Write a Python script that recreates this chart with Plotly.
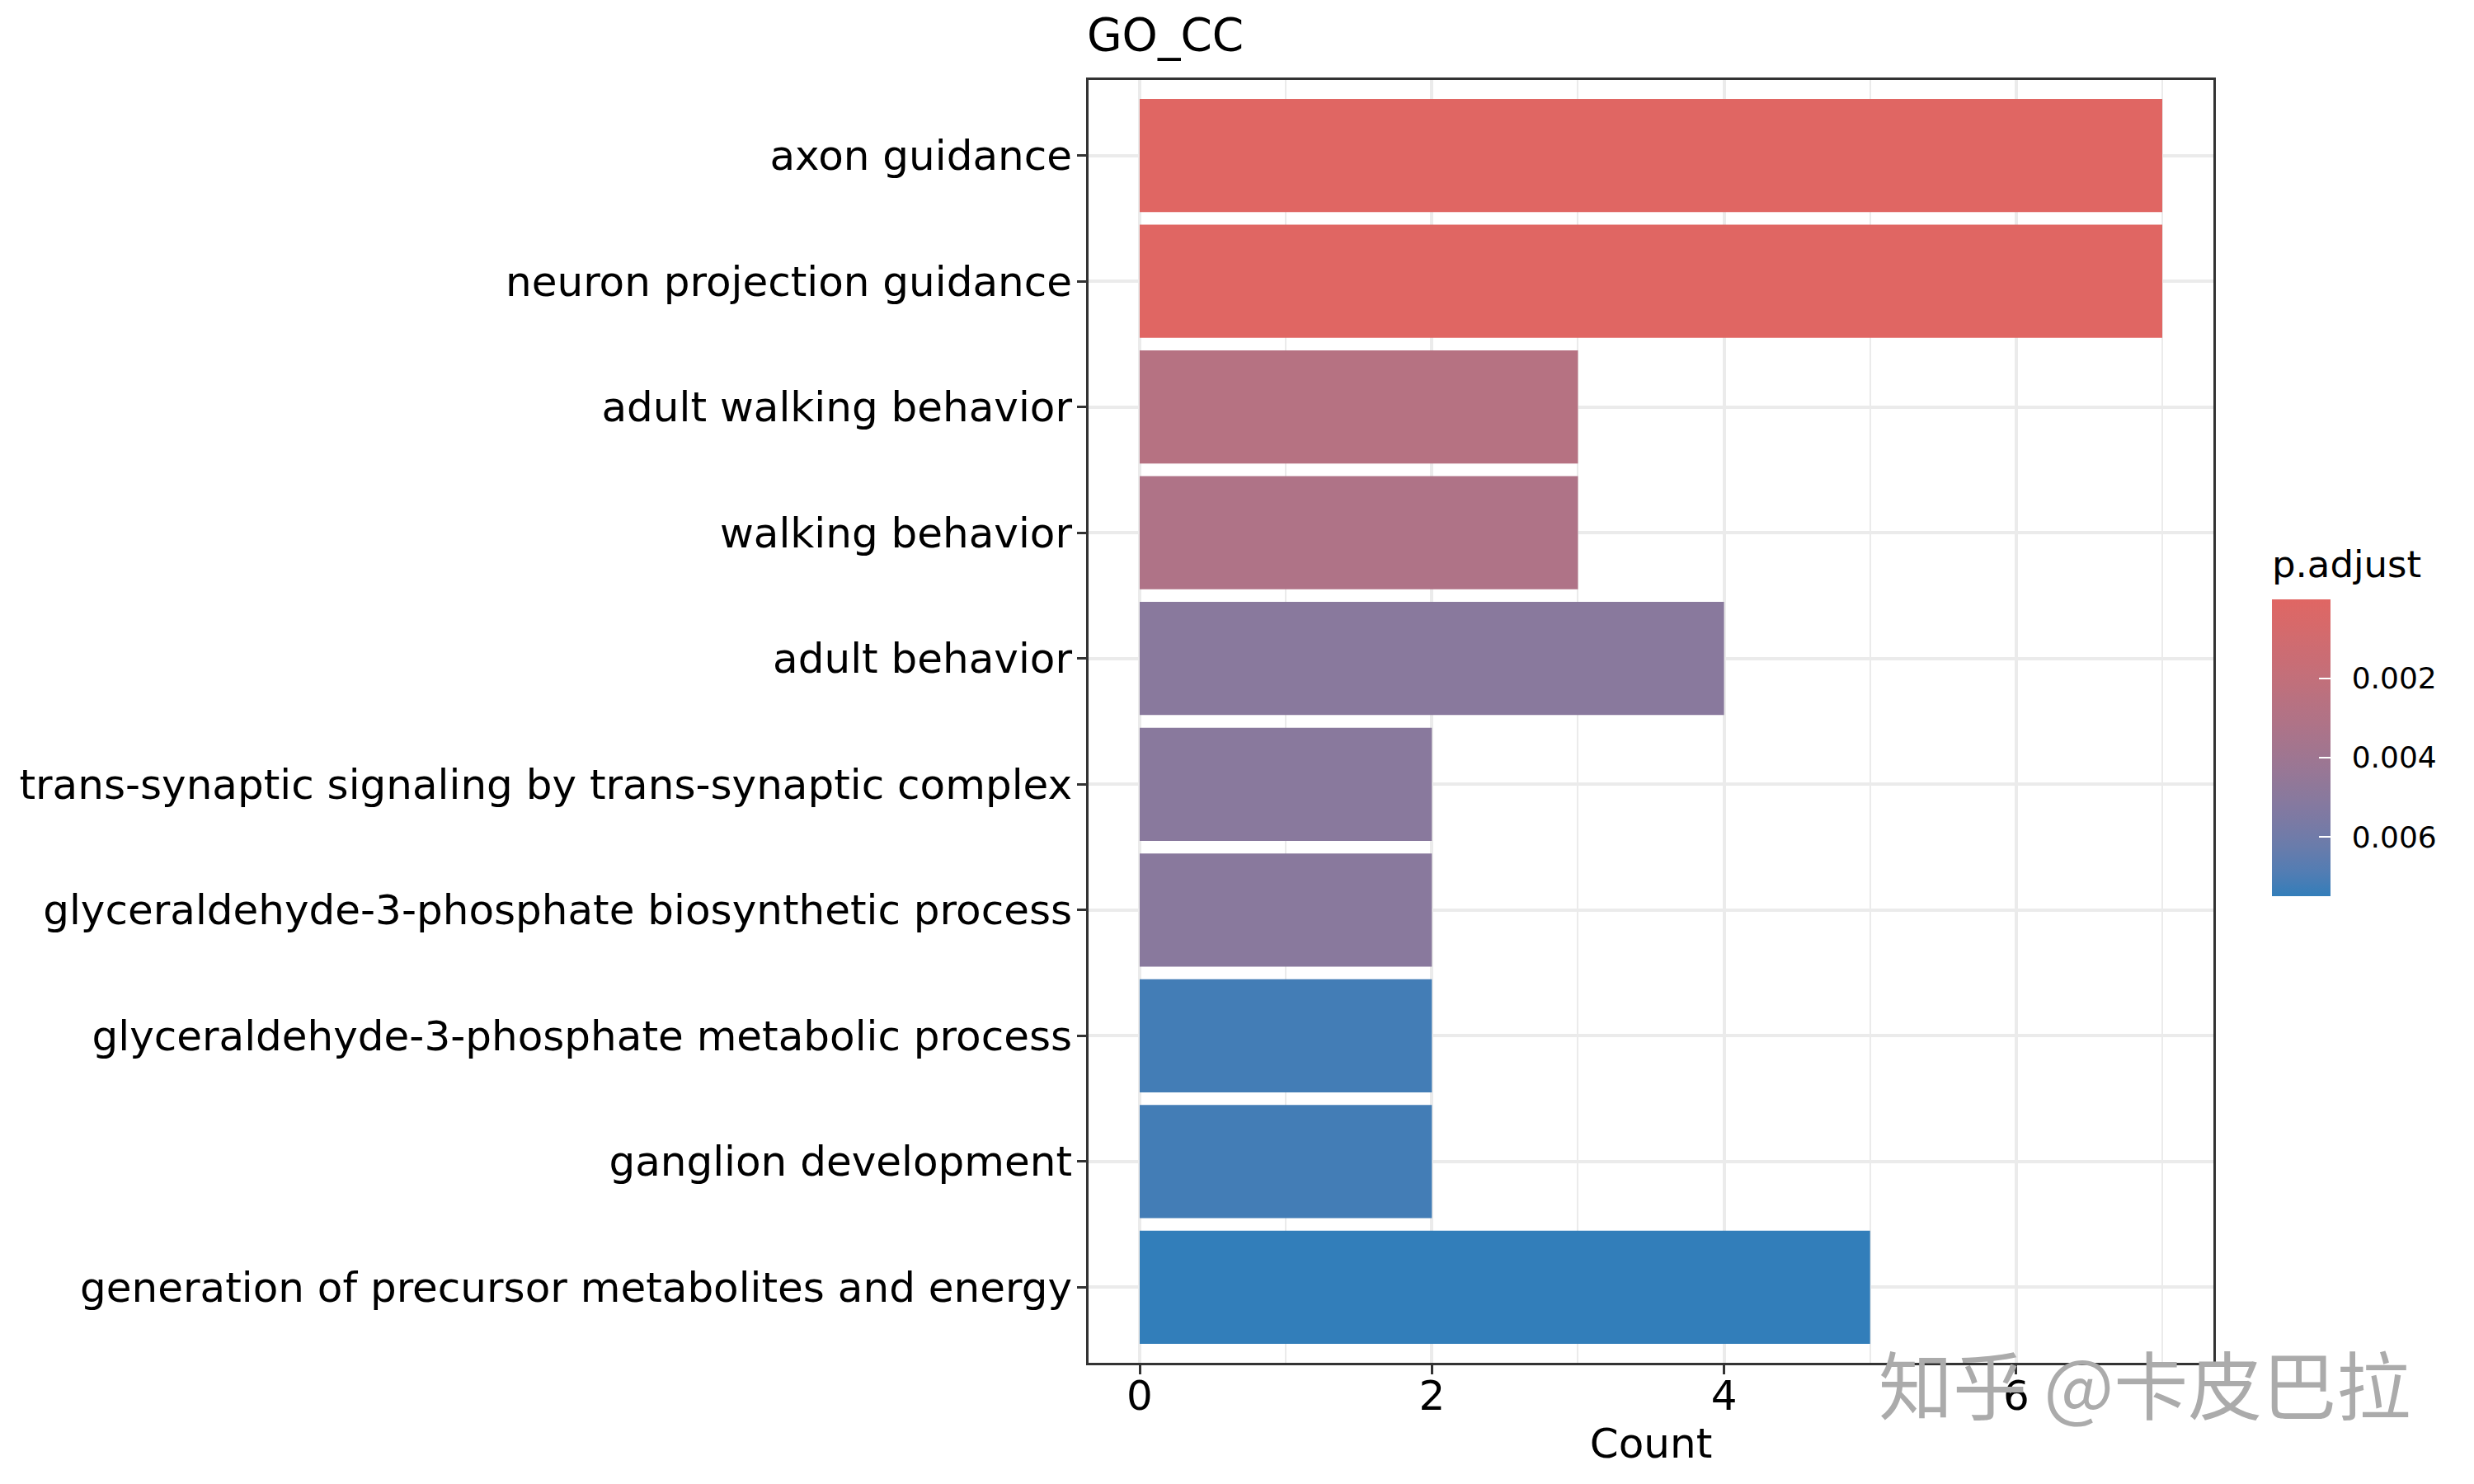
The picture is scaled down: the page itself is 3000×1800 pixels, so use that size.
import plotly.graph_objects as go

# ---------------- data ----------------
terms = [
    "axon guidance",
    "neuron projection guidance",
    "adult walking behavior",
    "walking behavior",
    "adult behavior",
    "trans-synaptic signaling by trans-synaptic complex",
    "glyceraldehyde-3-phosphate biosynthetic process",
    "glyceraldehyde-3-phosphate metabolic process",
    "ganglion development",
    "generation of precursor metabolites and energy",
]
counts = [7, 7, 3, 3, 4, 2, 2, 2, 2, 5]
p_adjust = [0.00001, 0.00003, 0.0027, 0.0031, 0.0050, 0.0050, 0.0050,
            0.0072, 0.0072, 0.0075]
x_ticks = [0, 2, 4, 6]
cb_ticks = [0.002, 0.004, 0.006]

LOW_COLOR = "#e06663"   # small p.adjust
HIGH_COLOR = "#327eba"  # large p.adjust


# ---------------- Lab gradient (like ggplot's scale_fill_gradient) ----------------
def _hex_to_rgb(h):
    h = h.lstrip("#")
    return [int(h[i:i + 2], 16) / 255 for i in (0, 2, 4)]


def _lin(c):
    return c / 12.92 if c <= 0.04045 else ((c + 0.055) / 1.055) ** 2.4


def _gam(c):
    c = max(0.0, min(1.0, c))
    return 12.92 * c if c <= 0.0031308 else 1.055 * c ** (1 / 2.4) - 0.055


WHITE = (0.95047, 1.0, 1.08883)


def rgb_to_lab(rgb):
    r, g, b = [_lin(c) for c in rgb]
    x = 0.4124 * r + 0.3576 * g + 0.1805 * b
    y = 0.2126 * r + 0.7152 * g + 0.0722 * b
    z = 0.0193 * r + 0.1192 * g + 0.9505 * b

    def f(t):
        return t ** (1 / 3) if t > 0.008856 else 7.787 * t + 16 / 116

    fx, fy, fz = f(x / WHITE[0]), f(y / WHITE[1]), f(z / WHITE[2])
    return (116 * fy - 16, 500 * (fx - fy), 200 * (fy - fz))


def lab_to_rgb(lab):
    L, a, b = lab
    fy = (L + 16) / 116
    fx = fy + a / 500
    fz = fy - b / 200

    def finv(t):
        return t ** 3 if t ** 3 > 0.008856 else (t - 16 / 116) / 7.787

    x, y, z = finv(fx) * WHITE[0], finv(fy) * WHITE[1], finv(fz) * WHITE[2]
    r = 3.2406 * x - 1.5372 * y - 0.4986 * z
    g = -0.9689 * x + 1.8758 * y + 0.0415 * z
    bb = 0.0557 * x - 0.2040 * y + 1.0570 * z
    return [round(_gam(c) * 255) for c in (r, g, bb)]


lab_lo = rgb_to_lab(_hex_to_rgb(LOW_COLOR))
lab_hi = rgb_to_lab(_hex_to_rgb(HIGH_COLOR))
n_stops = 25
colorscale = []
# colour value is -p so that small p (red) sits at the top of the colour bar
for i in range(n_stops):
    t = i / (n_stops - 1)          # 0 -> most negative (largest p) -> blue
    lab = [lab_hi[k] + (lab_lo[k] - lab_hi[k]) * t for k in range(3)]
    r, g, b = lab_to_rgb(lab)
    colorscale.append([t, f"rgb({r},{g},{b})"])

neg_p = [-p for p in p_adjust]

FONT = "DejaVu Sans"
GRID = "#EBEBEB"
AX = "#333333"

# page body has an 8px margin -> figure is 2992x1792, coordinates shifted by 8
W, H = 2992, 1792
L_M, R_M, T_M, B_M = 1312, 316, 89, 147
PLOT_H = H - T_M - B_M
PLOT_W = W - L_M - R_M

fig = go.Figure()
fig.add_trace(go.Bar(
    x=counts,
    y=terms,
    orientation="h",
    width=0.9,
    marker=dict(
        color=neg_p,
        colorscale=colorscale,
        cmin=-max(p_adjust),
        cmax=-min(p_adjust),
        line=dict(width=0),
        showscale=True,
        colorbar=dict(
            tickvals=[-v for v in cb_ticks],
            ticktext=["\u2002" + f"{v:.3f}" for v in cb_ticks],
            tickfont=dict(family=FONT, size=36, color="black"),
            ticks="inside",
            ticklen=14,
            tickwidth=2,
            tickcolor="white",
            outlinewidth=0,
            thickness=71,
            thicknessmode="pixels",
            len=360,
            lenmode="pixels",
            x=(2747 - L_M) / PLOT_W,
            xanchor="left",
            xpad=0,
            y=(H - B_M - 899) / PLOT_H,
            yanchor="middle",
            ypad=0,
        ),
    ),
    hoverinfo="x+y",
))

fig.update_layout(
    width=W,
    height=H,
    paper_bgcolor="white",
    plot_bgcolor="white",
    margin=dict(l=L_M, r=R_M, t=T_M, b=B_M, pad=0, autoexpand=False),
    showlegend=False,
    title=dict(
        text="GO_CC",
        font=dict(family=FONT, size=55, color="black"),
        xref="container", x=(L_M - 2) / W, xanchor="left",
        yref="container", y=1 - 34 / H, yanchor="middle",
    ),
    font=dict(family=FONT, color="black"),
    annotations=[
        dict(
            text="p.adjust",
            xref="paper", yref="paper",
            x=(2745 - L_M) / PLOT_W, y=(H - B_M - 677) / PLOT_H,
            xanchor="left", yanchor="middle",
            showarrow=False,
            font=dict(family=FONT, size=45, color="black"),
        ),
        dict(
            text="知乎 @卡皮巴拉",
            xref="paper", yref="paper",
            x=(2592 - L_M) / PLOT_W, y=(H - B_M - 1668) / PLOT_H,
            xanchor="center", yanchor="middle",
            showarrow=False,
            font=dict(family="Noto Sans CJK SC", size=90, color="#ABABAB"),
        ),
    ],
)

fig.update_xaxes(
    range=[-0.35, 7.35],
    tickvals=x_ticks,
    ticks="outside", ticklen=11, tickwidth=3, tickcolor=AX,
    ticklabelstandoff=-17,
    tickfont=dict(family=FONT, size=50, color="black"),
    showgrid=True, gridcolor=GRID, gridwidth=3.5,
    minor=dict(dtick=1, tick0=0, showgrid=True, gridcolor=GRID, gridwidth=1.8),
    zeroline=False,
    showline=True, linecolor=AX, linewidth=3, mirror=True,
    title=dict(text="Count", font=dict(family=FONT, size=50, color="black"), standoff=2),
)
fig.update_yaxes(
    categoryorder="array",
    categoryarray=terms,
    range=[9.6, -0.6],
    ticks="outside", ticklen=11, tickwidth=3, tickcolor=AX,
    ticklabelstandoff=-4,
    tickfont=dict(family=FONT, size=50, color="black"),
    showgrid=True, gridcolor=GRID, gridwidth=3.5,
    zeroline=False,
    showline=True, linecolor=AX, linewidth=3, mirror=True,
)

fig.write_html("out.html")
